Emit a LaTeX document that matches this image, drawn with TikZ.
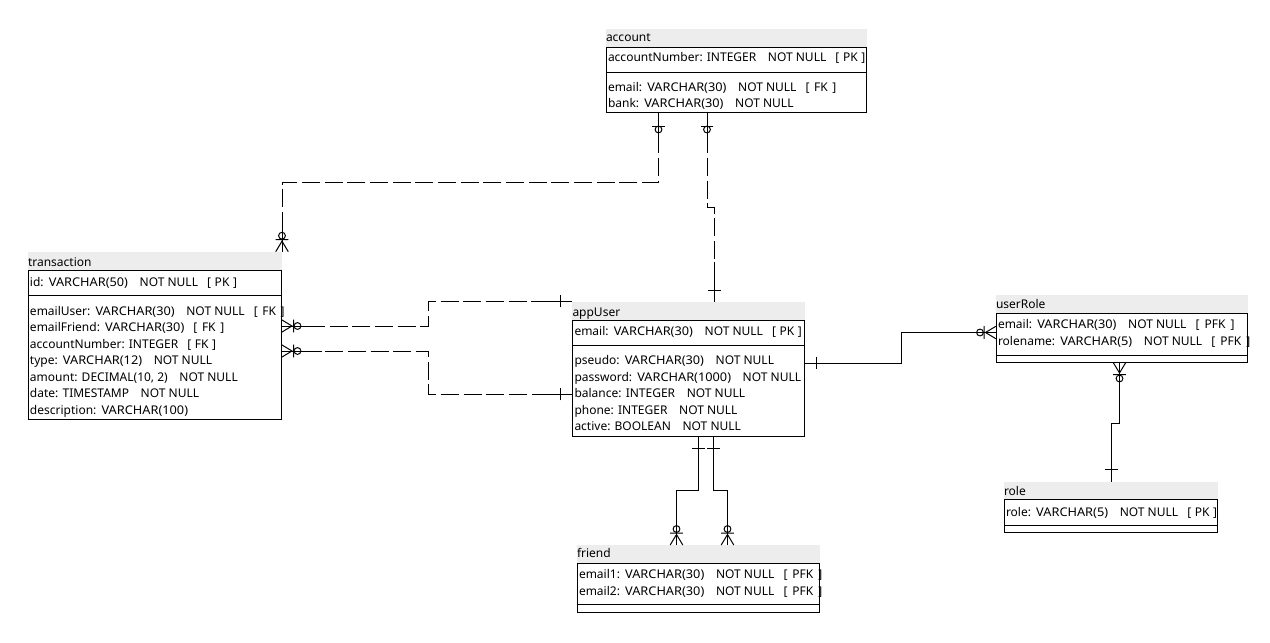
\documentclass[tikz,border=0pt]{standalone}
\usepackage{fontspec}
\usepackage{graphicx}
\setmainfont{Noto Sans}
\usetikzlibrary{calc}
\newcommand{\gp}{\hspace{8.5pt} }
\newcommand{\gq}{\hspace{6pt} }
\newcommand{\vc}[1]{\hspace{1pt}\scalebox{1.065}[1]{VARCHAR(#1)}}
\newcommand{\brPK}{[\hspace{3.6pt}PK\hspace{3.6pt}]}
\newcommand{\brFK}{[\hspace{4.6pt}FK\hspace{4.6pt}]}
\newcommand{\brPFK}{[\hspace{5pt}PFK\hspace{5pt}]}
\newcommand{\rowt}[4]{\node[rowtext] (#1) at (#2,#3) {#4};}
\tikzset{
  x=1pt,y=-1pt,
  conn/.style={line width=1pt,black},
  dashedconn/.style={conn,dash pattern=on 18pt off 4.67pt},
  hdr/.style={draw=none,fill=black!7,anchor=north west,inner sep=0pt,outer sep=0pt},
  ent/.style={draw=black,line width=1pt,fill=white,anchor=north west,inner sep=0pt,outer sep=0pt},
  rowtext/.style={anchor=base west,inner sep=0pt,outer sep=0pt,font=\fontsize{12}{13}\selectfont,text=black},
  zmany/.pic={\draw[conn] (0,-6.3) -- (10.5,0) -- (0,6.3) (12,-6.3) -- (12,6.3);\draw[conn] (16,0) circle[radius=3.4pt];},
  zone/.pic={\draw[conn] (13.5,-6.3) -- (13.5,6.3);\draw[conn] (17,0) circle[radius=3.4pt];},
  one/.pic={\draw[conn] (12,-6.3) -- (12,6.3);}
}
\begin{document}
\begin{tikzpicture}
\useasboundingbox (0,0) rectangle (1270,643);
\fill[white] (0,0) rectangle (1270,643);
% headers and boxes
\node[hdr,minimum width=261pt,minimum height=18pt] (accountH) at (606,29) {};
\node[ent,minimum width=260pt,minimum height=65pt] (accountB) at (606.5,47.5) {};
\draw[conn] (606.5,72.5) -- (866.5,72.5);
\node[hdr,minimum width=254pt,minimum height=18.5pt] (transactionH) at (28,251.7) {};
\node[ent,minimum width=253pt,minimum height=149pt] (transactionB) at (28.5,270.5) {};
\draw[conn] (28.5,295.5) -- (281.5,295.5);
\node[hdr,minimum width=233pt,minimum height=18pt] (appUserH) at (572,302) {};
\node[ent,minimum width=232pt,minimum height=116pt] (appUserB) at (572.5,320.5) {};
\draw[conn] (572.5,345.5) -- (804.5,345.5);
\node[hdr,minimum width=243pt,minimum height=18pt] (friendH) at (577,545) {};
\node[ent,minimum width=242pt,minimum height=49pt] (friendB) at (577.5,563.5) {};
\draw[conn] (577.5,604.5) -- (819.5,604.5);
\node[hdr,minimum width=252.5pt,minimum height=18pt] (userRoleH) at (995.5,295) {};
\node[ent,minimum width=251.5pt,minimum height=49pt] (userRoleB) at (996,313.5) {};
\draw[conn] (996,355.5) -- (1247.5,355.5);
\node[hdr,minimum width=214pt,minimum height=17.5pt] (roleH) at (1004,481.7) {};
\node[ent,minimum width=213pt,minimum height=33pt] (roleB) at (1004.5,499.5) {};
\draw[conn] (1004.5,525) -- (1217.5,525);
% texts
\rowt{t1}{606}{41.7}{account}
\rowt{a1}{608}{61.7}{accountNumber: INTEGER\gp NOT NULL\gq \brPK}
\rowt{a2}{608}{91}{email: \vc{30}\gp NOT NULL\gq \brFK}
\rowt{a3}{608}{107.5}{bank: \vc{30}\gp NOT NULL}
\rowt{t2}{28}{266}{transaction}
\rowt{b1}{30}{286}{id: \vc{50}\gp NOT NULL\gq \brPK}
\rowt{b2}{30}{315}{emailUser: \vc{30}\gp NOT NULL\gq \brFK}
\rowt{b3}{30}{331.5}{emailFriend: \vc{30}\gq \brFK}
\rowt{b4}{30}{348}{accountNumber: INTEGER\gq [\hspace{3.6pt}FK\hspace{3.6pt}]}
\rowt{b5}{30}{364.5}{type: \vc{12}\gp NOT NULL}
\rowt{b6}{30}{381}{amount: DECIMAL(10, 2)\gp NOT NULL}
\rowt{b7}{30}{397.5}{date: TIMESTAMP\gp NOT NULL}
\rowt{b8}{30}{414}{description: \vc{100}}
\rowt{t3}{572.5}{316}{appUser}
\rowt{c1}{574.5}{335.7}{email: \vc{30}\gp NOT NULL\gq \brPK}
\rowt{c2}{574.5}{364}{pseudo: \vc{30}\gp NOT NULL}
\rowt{c3}{574.5}{381}{password: \vc{1000}\gp NOT NULL}
\rowt{c4}{574.5}{397.7}{balance: INTEGER\gp NOT NULL}
\rowt{c5}{574.5}{414}{phone: INTEGER\gp NOT NULL}
\rowt{c6}{574.5}{430.5}{active: BOOLEAN\gp NOT NULL}
\rowt{t4}{577}{557.7}{friend}
\rowt{d1}{579}{578.7}{email1: \vc{30}\gp NOT NULL\gq \brPFK}
\rowt{d2}{579}{595}{email2: \vc{30}\gp NOT NULL\gq \brPFK}
\rowt{t5}{996}{308.3}{userRole}
\rowt{e1}{998}{328.5}{email: \vc{30}\gp NOT NULL\gq \brPFK}
\rowt{e2}{998}{345}{rolename: \vc{5}\gp NOT NULL\gq \brPFK}
\rowt{t6}{1004}{495}{role}
\rowt{f1}{1006}{516}{role: \vc{5}\gp NOT NULL\gq \brPK}
% connector ends
\coordinate (acL) at ([xshift=52pt]accountB.south west);
\coordinate (acR) at ([xshift=100.5pt]accountB.south west);
\coordinate (trT) at (transactionH.north east);
\coordinate (trA) at ([yshift=-55.5pt]transactionB.north east);
\coordinate (trB) at ([yshift=-80.5pt]transactionB.north east);
\coordinate (auT) at ([xshift=142.5pt]appUserH.north west);
\coordinate (auA) at ([yshift=1pt]appUserH.north west);
\coordinate (auB) at ([yshift=-73.5pt]appUserB.north west);
\coordinate (auR) at ([yshift=-42.5pt]appUserB.north east);
\coordinate (auF1) at ([xshift=126pt]appUserB.south west);
\coordinate (auF2) at ([xshift=141pt]appUserB.south west);
\coordinate (frA) at ([xshift=99.5pt]friendH.north west);
\coordinate (frB) at ([xshift=150.5pt]friendH.north west);
\coordinate (urL) at ([yshift=-19pt]userRoleB.north west);
\coordinate (urB) at ([xshift=123.5pt]userRoleB.south west);
\coordinate (roT) at ([xshift=107.5pt]roleH.north west);
% connectors
\draw[dashedconn] (acL) |- (282,182) -| (trT);
\draw[conn] (acL) -- ++(0,38);
\draw[conn] (trT) -- ++(0,-40);
\draw[dashedconn] (acR) |- (714.5,207) -- (auT);
\draw[conn] (acR) -- ++(0,38);
\draw[conn] (auT) -- ++(0,-40);
\draw[dashedconn,dash phase=20pt] (trA) -| (428,301) -- (auA);
\draw[conn] (trA) -- ++(40,0);
\draw[conn] (auA) -- ++(-40,0);
\draw[dashedconn,dash phase=1.6pt] (trB) -| (428,394) -- (auB);
\draw[conn] (trB) -- ++(40,0);
\draw[conn] (auB) -- ++(-40,0);
\draw[conn] (auR) -| (901,332.5) -- (urL);
\draw[conn] (urB) |- (1111.5,423.5) -- (roT);
\draw[conn] (auF1) |- (676.5,490.5) -- (frA);
\draw[conn] (auF2) |- (727.5,490.5) -- (frB);
% end marks
\pic[rotate=-90] at (acL) {zone};
\pic[rotate=-90] at (acR) {zone};
\pic[rotate=90] at (trT) {zmany};
\pic at (trA) {zmany};
\pic at (trB) {zmany};
\pic[rotate=90] at (auT) {one};
\pic[rotate=180] at (auA) {one};
\pic[rotate=180] at (auB) {one};
\pic at (auR) {one};
\pic[rotate=-90] at (auF1) {one};
\pic[rotate=-90] at (auF2) {one};
\pic[rotate=90] at (frA) {zmany};
\pic[rotate=90] at (frB) {zmany};
\pic[rotate=180] at (urL) {zmany};
\pic[rotate=-90] at (urB) {zmany};
\pic[rotate=90] at (roT) {one};
\end{tikzpicture}
\end{document}
